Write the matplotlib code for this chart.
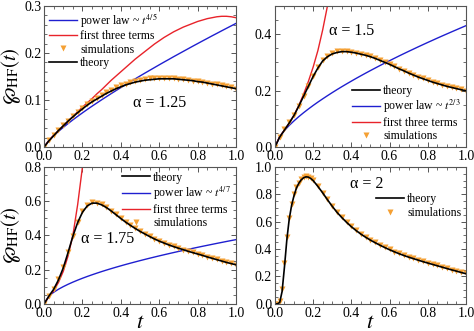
import matplotlib
matplotlib.use('Agg')
import matplotlib.pyplot as plt
import numpy as np

plt.rcParams['font.family'] = ['Liberation Serif', 'DejaVu Serif']
plt.rcParams['mathtext.fontset'] = 'stix'

# common time grid for panels 1-3
t = [0.0, 0.025, 0.05, 0.075, 0.1, 0.125, 0.15, 0.175, 0.2, 0.225, 0.25, 0.275, 0.3, 0.325,
     0.35, 0.375, 0.4, 0.425, 0.45, 0.475, 0.5, 0.525, 0.55, 0.575, 0.6, 0.625, 0.65, 0.675,
     0.7, 0.725, 0.75, 0.775, 0.8, 0.825, 0.85, 0.875, 0.9, 0.925, 0.95, 0.975, 1.0]

# alpha = 1.25
theory_125 = [0.0, 0.013, 0.024, 0.035, 0.045, 0.055, 0.064, 0.073, 0.081, 0.089, 0.096, 0.102,
              0.108, 0.114, 0.119, 0.124, 0.128, 0.132, 0.135, 0.138, 0.140, 0.142, 0.143, 0.144,
              0.145, 0.145, 0.145, 0.145, 0.144, 0.143, 0.142, 0.141, 0.139, 0.138, 0.136, 0.134,
              0.132, 0.130, 0.128, 0.126, 0.124]
sim_125 = [0.0, 0.014, 0.025, 0.036, 0.046, 0.056, 0.066, 0.074, 0.083, 0.091, 0.098, 0.105,
           0.111, 0.117, 0.122, 0.127, 0.131, 0.135, 0.138, 0.141, 0.143, 0.145, 0.146, 0.147,
           0.147, 0.147, 0.146, 0.146, 0.145, 0.144, 0.143, 0.141, 0.140, 0.138, 0.137, 0.135,
           0.133, 0.131, 0.129, 0.127, 0.124]
power_125 = [0.0, 0.0138, 0.0239, 0.0331, 0.0417, 0.0498, 0.0577, 0.0652, 0.0726, 0.0798, 0.0868,
             0.0936, 0.1004, 0.1070, 0.1136, 0.1200, 0.1264, 0.1326, 0.1388, 0.1450, 0.1511,
             0.1571, 0.1630, 0.1689, 0.1748, 0.1806, 0.1863, 0.1921, 0.1977, 0.2033, 0.2089,
             0.2145, 0.2200, 0.2255, 0.2309, 0.2364, 0.2417, 0.2471, 0.2524, 0.2577, 0.263]
three_125 = [0.0, 0.014, 0.025, 0.035, 0.045, 0.055, 0.065, 0.075, 0.085, 0.094, 0.103, 0.113,
             0.122, 0.132, 0.142, 0.151, 0.160, 0.169, 0.178, 0.187, 0.195, 0.203, 0.211, 0.219,
             0.226, 0.233, 0.239, 0.245, 0.250, 0.255, 0.259, 0.263, 0.267, 0.270, 0.273, 0.275,
             0.277, 0.278, 0.278, 0.277, 0.275]

# alpha = 1.5
theory_15 = [0.0, 0.035, 0.060, 0.085, 0.112, 0.145, 0.180, 0.215, 0.250, 0.280, 0.305, 0.320,
             0.330, 0.335, 0.338, 0.338, 0.336, 0.333, 0.329, 0.325, 0.320, 0.314, 0.307, 0.300,
             0.293, 0.285, 0.277, 0.270, 0.262, 0.255, 0.248, 0.242, 0.236, 0.230, 0.225, 0.220,
             0.215, 0.211, 0.207, 0.203, 0.199]
sim_15 = [0.0, 0.037, 0.062, 0.088, 0.115, 0.147, 0.182, 0.217, 0.252, 0.282, 0.307, 0.324,
          0.334, 0.339, 0.340, 0.339, 0.337, 0.334, 0.330, 0.326, 0.321, 0.315, 0.308, 0.301,
          0.294, 0.286, 0.278, 0.271, 0.263, 0.256, 0.249, 0.243, 0.237, 0.232, 0.226, 0.221,
          0.217, 0.212, 0.208, 0.204, 0.200]
power_15 = [0.0, 0.0368, 0.0584, 0.0765, 0.0926, 0.1075, 0.1214, 0.1345, 0.1471, 0.1591, 0.1706,
            0.1818, 0.1927, 0.2033, 0.2136, 0.2236, 0.2334, 0.2431, 0.2525, 0.2618, 0.2709,
            0.2798, 0.2887, 0.2974, 0.3059, 0.3143, 0.3227, 0.3309, 0.3390, 0.3470, 0.3550,
            0.3628, 0.3706, 0.3782, 0.3859, 0.3934, 0.4008, 0.4082, 0.4155, 0.4228, 0.43]
t_three_15 = [0.0, 0.025, 0.05, 0.075, 0.1, 0.125, 0.15, 0.175, 0.2, 0.225, 0.25, 0.275, 0.3]
three_15 = [0.0, 0.037, 0.060, 0.085, 0.113, 0.147, 0.187, 0.232, 0.283, 0.342, 0.415, 0.500, 0.590]

# alpha = 1.75
theory_175 = [0.0, 0.045, 0.085, 0.140, 0.210, 0.300, 0.395, 0.475, 0.535, 0.572, 0.588, 0.588,
              0.578, 0.562, 0.542, 0.520, 0.498, 0.477, 0.458, 0.440, 0.423, 0.408, 0.393, 0.379,
              0.366, 0.355, 0.344, 0.334, 0.325, 0.316, 0.307, 0.299, 0.291, 0.283, 0.274, 0.266,
              0.258, 0.250, 0.242, 0.235, 0.228]
sim_175 = [0.0, 0.047, 0.088, 0.143, 0.214, 0.304, 0.398, 0.480, 0.540, 0.578, 0.592, 0.591,
           0.582, 0.565, 0.545, 0.522, 0.500, 0.480, 0.460, 0.442, 0.425, 0.410, 0.395, 0.381,
           0.368, 0.357, 0.346, 0.336, 0.326, 0.317, 0.308, 0.300, 0.292, 0.284, 0.275, 0.267,
           0.259, 0.251, 0.243, 0.236, 0.229]
power_175 = [0.0, 0.0456, 0.0677, 0.0854, 0.1006, 0.1143, 0.1268, 0.1385, 0.1495, 0.1599, 0.1698,
             0.1793, 0.1885, 0.1973, 0.2058, 0.2141, 0.2221, 0.2300, 0.2376, 0.2450, 0.2524,
             0.2595, 0.2665, 0.2733, 0.2801, 0.2867, 0.2932, 0.2996, 0.3059, 0.3120, 0.3182,
             0.3242, 0.3301, 0.3360, 0.3417, 0.3474, 0.3531, 0.3586, 0.3642, 0.3696, 0.375]
t_three_175 = [0.0, 0.025, 0.05, 0.075, 0.1, 0.125, 0.15, 0.175, 0.2, 0.225]
three_175 = [0.0, 0.042, 0.078, 0.125, 0.190, 0.280, 0.400, 0.580, 0.800, 1.050]

# alpha = 2 (finer grid near the rise)
t_2 = [0.0, 0.0125, 0.025, 0.0375, 0.05, 0.0625, 0.075, 0.0875, 0.1, 0.1125, 0.125, 0.1375,
       0.15, 0.1625, 0.175, 0.1875, 0.2, 0.225, 0.25, 0.275, 0.3, 0.325, 0.35, 0.375, 0.4,
       0.425, 0.45, 0.475, 0.5, 0.525, 0.55, 0.575, 0.6, 0.625, 0.65, 0.675, 0.7, 0.725, 0.75,
       0.775, 0.8, 0.825, 0.85, 0.875, 0.9, 0.925, 0.95, 0.975, 1.0]
theory_2 = [0.0, 0.0, 0.010, 0.090, 0.270, 0.470, 0.620, 0.720, 0.790, 0.845, 0.880, 0.905,
            0.920, 0.927, 0.925, 0.915, 0.900, 0.857, 0.810, 0.760, 0.712, 0.668, 0.630, 0.595,
            0.563, 0.535, 0.509, 0.486, 0.465, 0.446, 0.428, 0.411, 0.395, 0.380, 0.366, 0.353,
            0.341, 0.330, 0.319, 0.308, 0.298, 0.288, 0.278, 0.268, 0.258, 0.248, 0.239, 0.229,
            0.220]
sim_2 = [0.0, 0.002, 0.020, 0.110, 0.300, 0.490, 0.630, 0.730, 0.800, 0.850, 0.885, 0.910,
         0.925, 0.930, 0.928, 0.917, 0.902, 0.860, 0.812, 0.762, 0.715, 0.670, 0.632, 0.597,
         0.565, 0.537, 0.511, 0.488, 0.467, 0.448, 0.430, 0.413, 0.397, 0.382, 0.368, 0.355,
         0.343, 0.331, 0.320, 0.310, 0.300, 0.290, 0.280, 0.270, 0.260, 0.250, 0.241, 0.231,
         0.222]

blue = '#1f1fd0'
red = '#e8232a'
orange = '#f5a033'

fig = plt.figure(figsize=(4.74, 3.31), dpi=100)
ax1 = fig.add_axes([0.093, 0.556, 0.405, 0.426])
ax2 = fig.add_axes([0.580, 0.556, 0.403, 0.426])
ax3 = fig.add_axes([0.093, 0.082, 0.405, 0.414])
ax4 = fig.add_axes([0.580, 0.082, 0.403, 0.414])

leg_kw = dict(frameon=False, fontsize=8.5, handlelength=2.4, handletextpad=0.25,
              labelspacing=0.12, borderaxespad=0.2, borderpad=0.2)

# panel 1
pw, = ax1.plot(t, power_125, color=blue, lw=1.0)
tr, = ax1.plot(t, three_125, color=red, lw=1.0)
sm, = ax1.plot(t, sim_125, 'v', color=orange, ms=3.8, mec='none')
th, = ax1.plot(t, theory_125, color='black', lw=1.2)
ax1.legend([pw, tr, sm, th], ['power law ~ $t^{4/5}$', 'first three terms', 'simulations', 'theory'],
           loc='upper left', **leg_kw)
ax1.text(0.6, 0.31, 'α = 1.25', transform=ax1.transAxes, ha='center', va='center', fontsize=11.5)
ax1.set_ylim(0, 0.3)
ax1.set_yticks([0.0, 0.1, 0.2, 0.3])

# panel 2
pw, = ax2.plot(t, power_15, color=blue, lw=1.0)
tr, = ax2.plot(t_three_15, three_15, color=red, lw=1.0)
sm, = ax2.plot(t, sim_15, 'v', color=orange, ms=3.8, mec='none')
th, = ax2.plot(t, theory_15, color='black', lw=1.2)
ax2.legend([th, pw, tr, sm], ['theory', 'power law ~ $t^{2/3}$', 'first three terms', 'simulations'],
           loc='lower right', **leg_kw)
ax2.text(0.40, 0.82, 'α = 1.5', transform=ax2.transAxes, ha='center', va='center', fontsize=11.5)
ax2.set_ylim(0, 0.5)
ax2.set_yticks([0.0, 0.2, 0.4])

# panel 3
pw, = ax3.plot(t, power_175, color=blue, lw=1.0)
tr, = ax3.plot(t_three_175, three_175, color=red, lw=1.0)
sm, = ax3.plot(t, sim_175, 'v', color=orange, ms=3.8, mec='none')
th, = ax3.plot(t, theory_175, color='black', lw=1.2)
ax3.legend([th, pw, tr, sm], ['theory', 'power law ~ $t^{4/7}$', 'first three terms', 'simulations'],
           loc='upper right', **leg_kw)
ax3.text(0.33, 0.47, 'α = 1.75', transform=ax3.transAxes, ha='center', va='center', fontsize=11.5)
ax3.set_ylim(0, 0.8)
ax3.set_yticks([0.0, 0.2, 0.4, 0.6, 0.8])

# panel 4
sm, = ax4.plot(t_2, sim_2, 'v', color=orange, ms=3.8, mec='none')
th, = ax4.plot(t_2, theory_2, color='black', lw=1.2)
ax4.legend([th, sm], ['theory', 'simulations'], loc='upper right',
           bbox_to_anchor=(1.0, 0.84), **leg_kw)
ax4.text(0.48, 0.876, 'α = 2', transform=ax4.transAxes, ha='center', va='center', fontsize=11.5)
ax4.set_ylim(0, 1.0)
ax4.set_yticks([0.0, 0.2, 0.4, 0.6, 0.8, 1.0])

for ax in [ax1, ax2, ax3, ax4]:
    ax.set_xlim(0, 1)
    ax.set_xticks([0.0, 0.2, 0.4, 0.6, 0.8, 1.0])
    ax.minorticks_on()
    ax.tick_params(which='both', direction='in', top=True, right=True, labelsize=10,
                   color='#555555', pad=2)
    ax.tick_params(which='major', length=3.5, width=0.7)
    ax.tick_params(which='minor', length=2, width=0.6)
    for s in ax.spines.values():
        s.set_color('#555555')
        s.set_linewidth(0.8)

for ax in [ax1, ax3]:
    ax.set_ylabel(r'$\wp_{\mathrm{HF}}(t)$', fontsize=15, labelpad=1)
for ax in [ax3, ax4]:
    ax.set_xlabel(r'$t$', fontsize=16, labelpad=-4)

fig.savefig('out.png', dpi=100)
